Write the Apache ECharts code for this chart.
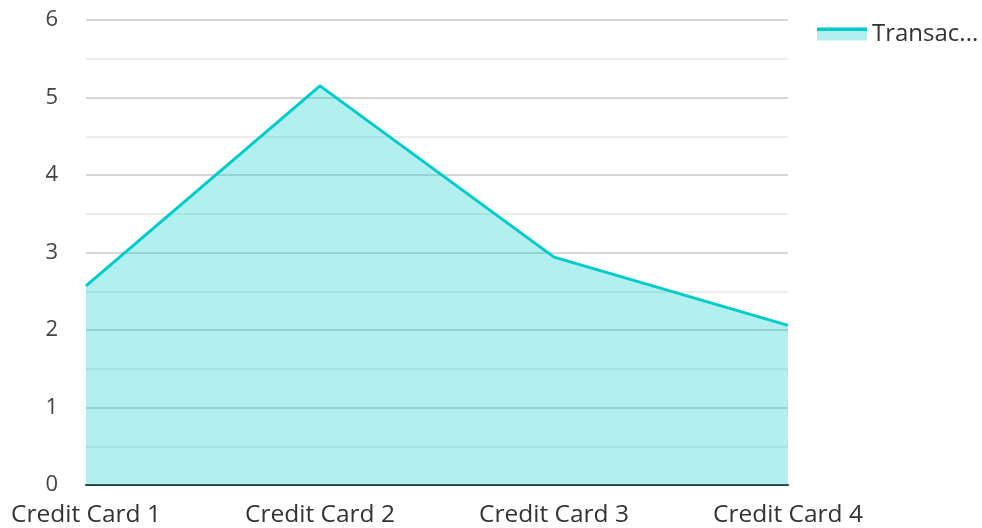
<!DOCTYPE html>
<html>
<head>
<meta charset="utf-8">
<title>Transactions</title>
<style>
  html, body { margin: 0; padding: 0; background: #fff; }
  #chart { width: 982px; height: 528px; }
</style>
</head>
<body>
<div id="chart"></div>
<script src="https://cdn.jsdelivr.net/npm/echarts@6/dist/echarts.min.js"></script>
<script>
var categories = ['Credit Card 1', 'Credit Card 2', 'Credit Card 3', 'Credit Card 4'];
var transactions = [2.57, 5.15, 2.94, 2.06];
var seriesName = 'Transactions';

var chart = echarts.init(document.getElementById('chart'));
// legend swatch: thin line on top of the pale area
var swatch = new echarts.graphic.LinearGradient(0, 0, 0, 1, [
    { offset: 0, color: '#00cccc' },
    { offset: 0.25, color: '#00cccc' },
    { offset: 0.25, color: '#b2efee' },
    { offset: 1, color: '#b2efee' }
]);
chart.setOption({
    textStyle: { fontFamily: 'Open Sans' },
    grid: { left: 86, right: 194, top: 20, bottom: 41 },
    legend: {
        left: 812,
        top: 17,
        itemWidth: 50,
        itemHeight: 13,
        icon: 'rect',
        itemStyle: { color: swatch },
        textStyle: {
            fontSize: 24, color: '#333', width: 114, overflow: 'truncate', ellipsis: '...'
        },
        data: [seriesName]
    },
    xAxis: {
        type: 'category',
        data: categories,
        boundaryGap: false,
        axisLine: { lineStyle: { color: '#333', width: 2 } },
        axisTick: { show: false },
        axisLabel: { fontSize: 24.5, color: '#333', margin: 18 }
    },
    yAxis: {
        type: 'value',
        min: 0, max: 6, interval: 1,
        axisLabel: { fontSize: 22, color: '#444', margin: 28 },
        splitLine: { lineStyle: { color: '#c8c8c8', width: 1.5 } },
        minorTick: { show: false, splitNumber: 2 },
        minorSplitLine: { show: true, lineStyle: { color: '#e8e8e8', width: 1.5 } }
    },
    series: [{
        name: seriesName,
        type: 'line',
        data: transactions,
        symbol: 'none',
        lineStyle: { color: '#00cccc', width: 3 },
        itemStyle: { color: '#00cccc' },
        areaStyle: { color: '#00cccc', opacity: 0.3 }
    }]
});
</script>
</body>
</html>
